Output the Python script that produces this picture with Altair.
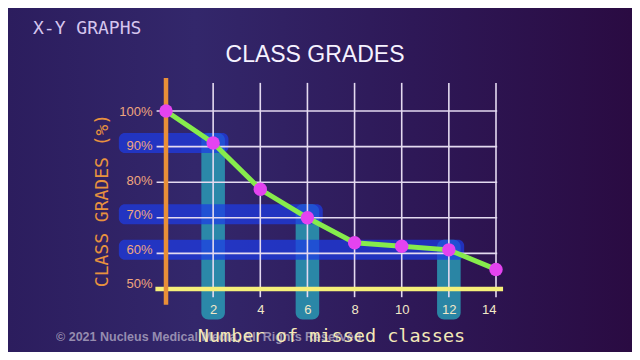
import altair as alt
import pandas as pd

# ---- data ----
missed = [0, 2, 4, 6, 8, 10, 12, 14]
grades = [100, 91, 78, 70, 63, 62, 61, 55.5]
highlight_missed = [2, 6, 12]
highlight_level = [90, 70, 60]
y_ticks = [50, 60, 70, 80, 90, 100]
x_ticks = [2, 4, 6, 8, 10, 12, 14]
grid_levels = [60, 70, 80, 90, 100]

W, H = 330, 178
xs = alt.Scale(domain=[0, 14], nice=False, zero=False)
ys = alt.Scale(domain=[50, 100], nice=False, zero=False)

pts = pd.DataFrame({"missed": missed, "grade": grades})
hl = pd.DataFrame({"missed": highlight_missed, "level": highlight_level})
hgrid = pd.DataFrame({"level": grid_levels})
vgrid = pd.DataFrame({"missed": x_ticks})
one = pd.DataFrame({"k": [0]})

x_axis = alt.Axis(
    values=x_ticks, domain=False, ticks=False, grid=False, labelPadding=14,
    labelFont="Liberation Sans", labelFontSize=13, labelColor="#f2e8c8",
    title="Number of missed classes", titleFont="DejaVu Sans Mono",
    titleFontSize=18.5, titleFontWeight="normal", titleColor="#f4e9b8",
    titleX=165, titleY=46, titleBaseline="middle", titleAlign="center", zindex=1,
)
y_axis = alt.Axis(
    values=y_ticks, domain=False, ticks=False, grid=False, labelPadding=14,
    labelExpr="datum.value + '%'",
    labelOffset=alt.ExprRef(expr="(datum.value - 100) * 0.11"),
    labelFont="Liberation Sans", labelFontSize=13, labelColor="#f0a67e",
    title="CLASS GRADES (%)", titleFont="DejaVu Sans Mono", titleFontSize=18,
    titleFontWeight="normal", titleColor="#e8923e", titleAngle=270,
    titleX=-64, titleY=89, titleBaseline="middle", titleAlign="center", zindex=1,
)


def X(f):
    return alt.X(f, scale=xs, axis=x_axis)


def Y(f):
    return alt.Y(f, scale=ys, axis=y_axis)


bg = alt.Chart(one).mark_rect(
    color=alt.LinearGradient(
        gradient="linear", x1=0, y1=0, x2=1, y2=0,
        stops=[
            alt.GradientStop(offset=0, color="#2c1d5e"),
            alt.GradientStop(offset=0.3, color="#33276b"),
            alt.GradientStop(offset=0.65, color="#2e1857"),
            alt.GradientStop(offset=1, color="#2a0b42"),
        ],
    )
).encode(x=alt.value(-158), x2=alt.value(466), y=alt.value(-103), y2=alt.value(241))

bars = alt.Chart(hl).transform_calculate(
    x0="datum.missed - 0.5", x1="datum.missed + 0.5",
    top="datum.level + 3.8", bottom="41.4"
).mark_rect(color="#29a1b9", opacity=0.8, cornerRadius=7).encode(
    x=X("x0:Q"), x2="x1:Q", y=Y("top:Q"), y2="bottom:Q",
)

bands = alt.Chart(hl).transform_calculate(
    x0="-2", x1="datum.missed + 0.65",
    top="datum.level + 3.8", bottom="datum.level - 1.8"
).mark_rect(color="#1d3be4", opacity=0.72, cornerRadius=6).encode(
    x=X("x0:Q"), x2="x1:Q", y=Y("top:Q"), y2="bottom:Q",
)

hg = alt.Chart(hgrid).transform_calculate(x0="-0.4", x1="14.05").mark_rule(
    color="#e4daf0", strokeWidth=1.6
).encode(x=X("x0:Q"), x2="x1:Q", y=Y("level:Q"))

vg = alt.Chart(vgrid).transform_calculate(y0="47.7", y1="107.9").mark_rule(
    color="#e4daf0", strokeWidth=1.6
).encode(x=X("missed:Q"), y=Y("y0:Q"), y2="y1:Q")

yellow = alt.Chart(one).transform_calculate(x0="-0.45", x1="14.3", yv="50").mark_rule(
    color="#f6f07a", strokeWidth=4.5
).encode(x=X("x0:Q"), x2="x1:Q", y=Y("yv:Q"))

orange = alt.Chart(one).transform_calculate(xv="0", y0="45.6", y1="109.3").mark_rule(
    color="#e98f38", strokeWidth=4.5
).encode(x=X("xv:Q"), y=Y("y0:Q"), y2="y1:Q")

line = alt.Chart(pts).mark_line(color="#86ec4c", strokeWidth=5).encode(
    x=X("missed:Q"), y=Y("grade:Q"),
)

points = alt.Chart(pts).mark_circle(size=180, color="#e443f0", opacity=1).encode(
    x=X("missed:Q"), y=Y("grade:Q"),
)

section = alt.Chart(one).mark_text(
    text="X-Y GRAPHS", font="DejaVu Sans Mono", fontSize=18, color="#d6c6ee",
    align="left", baseline="middle"
).encode(x=alt.value(-133), y=alt.value(-82))

title = alt.Chart(one).mark_text(
    text="CLASS GRADES", font="Liberation Sans", fontSize=23, color="#f6f2ff",
    align="center", baseline="middle"
).encode(x=alt.value(149), y=alt.value(-56))

copy = alt.Chart(one).mark_text(
    text="© 2021 Nucleus Medical Media, All Rights Reserved.", font="Liberation Sans",
    fontSize=12.5, fontWeight="bold", color="#a79fbd", opacity=0.85,
    align="left", baseline="middle"
).encode(x=alt.value(-110), y=alt.value(226))

chart = alt.layer(
    bg, bars, bands, hg, vg, yellow, orange, copy, line, points, section, title
).properties(
    width=W, height=H,
    autosize=alt.AutoSizeParams(type="none"),
    padding={"left": 158, "top": 103, "right": 136, "bottom": 63},
    background="#2c1858",
).configure_view(stroke=None)

chart.save("out.html", embed_options={"renderer": "svg", "actions": False})
